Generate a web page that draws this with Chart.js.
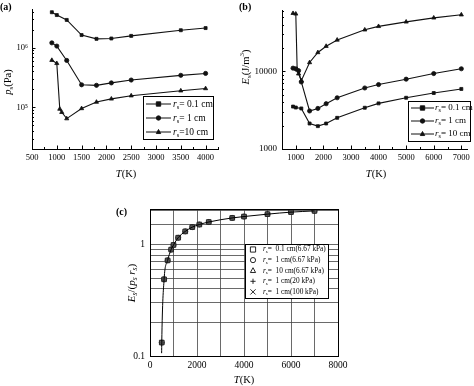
<!DOCTYPE html>
<html>
<head>
<meta charset="utf-8">
<script src="https://cdn.jsdelivr.net/npm/chart.js@4.4.0/dist/chart.umd.min.js"></script>
<style>
  body { margin: 0; background: #fff; }
  #wrap { position: relative; width: 474px; height: 386px; }
  canvas { position: absolute; }
</style>
</head>
<body>
<div id="wrap">
  <canvas id="ca" width="237" height="195" style="left:0;top:0"></canvas>
  <canvas id="cb" width="237" height="195" style="left:237px;top:0"></canvas>
  <canvas id="cc" width="280" height="191" style="left:100px;top:195px"></canvas>
</div>
<script>
// ---- data ----
// (a) saturation pressure p_s (Pa) vs T (K)
const tA = [900, 1000, 1200, 1500, 1800, 2100, 2500, 3500, 4000];
const psA1 = [3.9e6, 3.5e6, 2.9e6, 1.62e6, 1.4e6, 1.42e6, 1.57e6, 1.95e6, 2.12e6];   // rs = 0.1 cm
const psA2 = [1.2e6, 1.06e6, 6.1e5, 2.39e5, 2.34e5, 2.57e5, 2.87e5, 3.44e5, 3.7e5];  // rs = 1 cm
const tA3 = [900, 1000, 1060, 1100, 1200, 1500, 1800, 2100, 2500, 3500, 4000];
const psA3 = [6.15e5, 5.45e5, 9.4e4, 8.3e4, 6.5e4, 9.6e4, 1.23e5, 1.39e5, 1.57e5, 1.9e5, 2.07e5]; // rs = 10 cm

// (b) E_s (J/m^3) vs T (K)
const tB1 = [900, 1000, 1200, 1500, 1800, 2100, 2500, 3500, 4000, 5000, 6000, 7000];
const esB1 = [3520, 3420, 3330, 2130, 1970, 2130, 2520, 3400, 3870, 4570, 5260, 5940];
const tB2 = [900, 1000, 1100, 1200, 1500, 1800, 2100, 2500, 3500, 4000, 5000, 6000, 7000];
const esB2 = [11000, 10800, 10200, 7300, 3090, 3330, 3830, 4570, 6110, 6760, 7930, 9370, 10800];
const tB3 = [900, 1000, 1050, 1100, 1200, 1500, 1800, 2100, 2500, 3500, 4000, 5000, 6000, 7000];
const esB3 = [56000, 55000, 10500, 9300, 7600, 13000, 17500, 21100, 25400, 34300, 38000, 43400, 48900, 53600];

// (c) E_s/(p_s r_s) vs T (K), same for all five cases
const tC = [500, 600, 750, 900, 1000, 1200, 1500, 1800, 2100, 2500, 3500, 4000, 5000, 6000, 7000];
const eC = [0.132, 0.487, 0.72, 0.90, 0.99, 1.15, 1.31, 1.43, 1.51, 1.59, 1.73, 1.78, 1.87, 1.95, 2.0];
const fitT = [495].concat(tC);
const fitE = [0.106].concat(eC);

const legA = ['= 0.1 cm', '= 1 cm', '=10 cm'];
const legB = ['= 0.1 cm', '= 1 cm', '= 10 cm'];
const legC = ['=  0.1 cm(6.67 kPa)', '=  1 cm(6.67 kPa)', '=  10 cm(6.67 kPa)', '=  1 cm(20 kPa)', '=  1 cm(100 kPa)'];
const styleC = ['rect', 'circle', 'triangle', 'cross', 'crossRot'];

const FONT = "'Liberation Serif', 'Times New Roman', serif";
Chart.defaults.font.family = FONT;
Chart.defaults.color = '#000';

const pairs = (xs, ys) => xs.map((x, i) => ({ x: x, y: ys[i] }));
const isPow10 = v => { const e = Math.log10(v); return Math.abs(e - Math.round(e)) < 1e-6; };
const SUP = { 4: '⁴', 5: '⁵', 6: '⁶', 7: '⁷' };

// text with italic / subscript / superscript pieces
function rich(ctx, parts, x, y, size, rot, align) {
  ctx.save();
  ctx.translate(x, y);
  if (rot) ctx.rotate(rot);
  ctx.textBaseline = 'middle';
  ctx.fillStyle = '#000';
  const segs = parts.map(([t, k]) => {
    const small = k === 'sub' || k === 'isub' || k === 'sup';
    const s = small ? size * 0.68 : size;
    const f = (k === 'i' || k === 'isub' ? 'italic ' : '') + (k === 'bold' ? 'bold ' : '') + s + 'px ' + FONT;
    ctx.font = f;
    const dy = (k === 'sub' || k === 'isub') ? size * 0.3 : (k === 'sup' ? -size * 0.35 : 0);
    return { t: t, f: f, w: ctx.measureText(t).width, dy: dy };
  });
  const tw = segs.reduce((a, s) => a + s.w, 0);
  let cx = align === 'left' ? 0 : -tw / 2;
  segs.forEach(s => { ctx.font = s.f; ctx.fillText(s.t, cx, s.dy); cx += s.w; });
  ctx.restore();
}

function mark(ctx, st, x, y, r, fill) {
  ctx.beginPath();
  if (st === 'rect') ctx.rect(x - r, y - r, 2 * r, 2 * r);
  else if (st === 'circle') ctx.arc(x, y, r, 0, Math.PI * 2);
  else if (st === 'triangle') { ctx.moveTo(x, y - r * 1.15); ctx.lineTo(x + r, y + r * 0.7); ctx.lineTo(x - r, y + r * 0.7); ctx.closePath(); }
  else if (st === 'cross') { ctx.moveTo(x - r, y); ctx.lineTo(x + r, y); ctx.moveTo(x, y - r); ctx.lineTo(x, y + r); }
  else if (st === 'crossRot') { ctx.moveTo(x - r, y - r); ctx.lineTo(x + r, y + r); ctx.moveTo(x + r, y - r); ctx.lineTo(x - r, y + r); }
  if (fill && st !== 'cross' && st !== 'crossRot') ctx.fill();
  ctx.stroke();
}

// per-chart decorations: inward ticks, legend box, titles
function deco(cfg) {
  return {
    id: 'deco',
    afterDraw(chart) {
      const ctx = chart.ctx, a = chart.chartArea, x = chart.scales.x, y = chart.scales.y;
      ctx.save();
      ctx.strokeStyle = '#000';
      ctx.fillStyle = '#000';
      ctx.lineWidth = 1;
      if (cfg.xStep) {
        const h = cfg.xStep / 2;
        for (let v = Math.ceil(x.min / h) * h; v <= x.max; v += h) {
          const px = Math.round(x.getPixelForValue(v)) + 0.5;
          const len = (v % cfg.xStep === 0) ? 3.5 : 2;
          ctx.beginPath(); ctx.moveTo(px, a.bottom); ctx.lineTo(px, a.bottom - len); ctx.stroke();
        }
        for (let e = Math.floor(Math.log10(y.min)); e <= Math.ceil(Math.log10(y.max)); e++) {
          for (let m = 1; m <= 9; m++) {
            const v = m * Math.pow(10, e);
            if (v < y.min || v > y.max) continue;
            const py = Math.round(y.getPixelForValue(v)) + 0.5;
            const len = m === 1 ? 3.5 : 2;
            ctx.beginPath(); ctx.moveTo(a.left, py); ctx.lineTo(a.left + len, py); ctx.stroke();
          }
        }
      }
      if (cfg.box) ctx.strokeRect(Math.round(a.left) + 0.5, Math.round(a.top) + 0.5, Math.round(a.right - a.left), Math.round(a.bottom - a.top));
      const L = cfg.legend;
      if (L) {
        ctx.fillStyle = '#fff';
        ctx.fillRect(L.x, L.y, L.w, L.h);
        ctx.strokeRect(L.x + 0.5, L.y + 0.5, L.w, L.h);
        const ds = chart.data.datasets.filter(d => d.label);
        ds.forEach((d, i) => {
          const cy = L.y + L.top + i * L.row;
          ctx.strokeStyle = '#111';
          ctx.fillStyle = '#111';
          if (L.line) {
            ctx.beginPath(); ctx.moveTo(L.x + 3, cy); ctx.lineTo(L.x + 3 + L.line, cy); ctx.stroke();
          }
          ctx.lineWidth = 0.9;
          mark(ctx, d.pointStyle, L.x + L.mx, cy, L.mr, L.fill);
          ctx.lineWidth = 1;
          rich(ctx, [['r', 'i'], ['s', 'sub'], [d.label, '']], L.x + L.tx, cy, L.size, 0, 'left');
        });
      }
      (cfg.texts || []).forEach(t => rich(ctx, t.parts, t.x, t.y, t.size, t.rot || 0, t.align));
      ctx.restore();
    }
  };
}

function axisX(min, max, step, h, pad, size, cb, grid) {
  return {
    type: 'linear', min: min, max: max,
    ticks: { autoSkip: false, maxRotation: 0, padding: pad,
             font: { size: size }, callback: cb || (v => v) },
    grid: grid || { display: false, drawTicks: false },
    border: { display: true, color: '#000', width: 1 },
    // fixed tick positions (multiples of step inside min..max)
    afterBuildTicks: s => {
      const t = [];
      for (let v = Math.ceil(min / step) * step; v <= max; v += step) t.push({ value: v });
      s.ticks = t;
    },
    afterFit: s => { s.height = h; }
  };
}
function axisY(min, max, w, pad, size, cb, grid) {
  return {
    type: 'logarithmic', min: min, max: max,
    ticks: { autoSkip: false, padding: pad, font: { size: size }, callback: cb },
    grid: grid || { display: false, drawTicks: false },
    border: { display: true, color: '#000', width: 1 },
    afterFit: s => { s.width = w; }
  };
}
function lineSet(label, xs, ys, st, r) {
  return { label: label, data: pairs(xs, ys), pointStyle: st, pointRadius: r,
           borderColor: '#111', backgroundColor: '#111', borderWidth: 1.1, pointBorderWidth: 0.8 };
}
const common = { responsive: false, animation: false, devicePixelRatio: 1,
                 plugins: { legend: { display: false }, tooltip: { enabled: false } } };

// ---- (a) ----
new Chart(document.getElementById('ca'), {
  type: 'line',
  data: { datasets: [
    lineSet(legA[0], tA, psA1, 'rect', 2.1),
    lineSet(legA[1], tA, psA2, 'circle', 2.1),
    lineSet(legA[2], tA3, psA3, 'triangle', 2.4)
  ] },
  options: Object.assign({}, common, {
    layout: { padding: { left: 0, top: 1, right: 19, bottom: 0 } },
    scales: {
      x: axisX(500, 4250, 500, 46, 4, 8.5),
      y: axisY(2.02e4, 4.4e6, 32, 4, 8.5, v => isPow10(v) ? '10' + SUP[Math.round(Math.log10(v))] : '')
    }
  }),
  plugins: [deco({
    xStep: 500,
    legend: { x: 143, y: 96, w: 70, h: 43, top: 8, row: 14, line: 25, mx: 15.5, mr: 2.2, tx: 30, size: 9.5, fill: true },
    texts: [
      { parts: [['(a)', 'bold']], x: 0, y: 7, size: 10, align: 'left' },
      { parts: [['p', 'i'], ['s', 'sub'], ['(Pa)', '']], x: 8, y: 82, size: 10.5, rot: -Math.PI / 2 },
      { parts: [['T', 'i'], ['(K)', '']], x: 126, y: 174, size: 10.5 }
    ]
  })]
});

// ---- (b) ----
new Chart(document.getElementById('cb'), {
  type: 'line',
  data: { datasets: [
    lineSet(legB[0], tB1, esB1, 'rect', 2.1),
    lineSet(legB[1], tB2, esB2, 'circle', 2.1),
    lineSet(legB[2], tB3, esB3, 'triangle', 2.4)
  ] },
  options: Object.assign({}, common, {
    layout: { padding: { left: 0, top: 2, right: 3, bottom: 0 } },
    scales: {
      x: axisX(500, 7240, 1000, 46, 4, 8.5),
      y: axisY(1000, 61000, 45, 5, 9, v => isPow10(v) ? String(Math.round(v)) : '')
    }
  }),
  plugins: [deco({
    xStep: 1000,
    legend: { x: 171, y: 101, w: 62, h: 40, top: 7, row: 13, line: 23, mx: 14.5, mr: 2.2, tx: 27, size: 9, fill: true },
    texts: [
      { parts: [['(b)', 'bold']], x: 2, y: 7, size: 10, align: 'left' },
      { parts: [['E', 'i'], ['s', 'sub'], ['(J/m', ''], ['3', 'sup'], [')', '']], x: 9, y: 67, size: 10.5, rot: -Math.PI / 2 },
      { parts: [['T', 'i'], ['(K)', '']], x: 139, y: 174, size: 10.5 }
    ]
  })]
});

// ---- (c) ----
const gridC = { display: true, drawTicks: false, color: '#444', lineWidth: 0.8 };
const dsC = [{ data: pairs(fitT, fitE), borderColor: '#000', borderWidth: 1, pointRadius: 0,
               cubicInterpolationMode: 'monotone', showLine: true }];
const radC = { rect: 3.3, circle: 2.5, triangle: 2.4, cross: 2.6, crossRot: 2.6 };
styleC.forEach((st, i) => {
  dsC.push({ label: legC[i], data: pairs(tC, eC), pointStyle: st, showLine: false,
             pointRadius: radC[st], pointBorderWidth: 0.9,
             pointBorderColor: '#222', pointBackgroundColor: st === 'rect' ? 'rgba(110,110,110,0.55)' : 'rgba(0,0,0,0)' });
});
new Chart(document.getElementById('cc'), {
  type: 'line',
  data: { datasets: dsC },
  options: Object.assign({}, common, {
    layout: { padding: { left: 0, top: 14, right: 42, bottom: 0 } },
    scales: {
      x: axisX(0, 8000, 1000, 30, 4, 9.5, v => v % 2000 === 0 ? v : '', gridC),
      y: axisY(0.1, 2.08, 50, 5, 9.5, v => isPow10(v) ? String(Math.pow(10, Math.round(Math.log10(v)))) : '', gridC)
    }
  }),
  plugins: [deco({
    box: true,
    legend: { x: 145, y: 49, w: 83, h: 54, top: 5.5, row: 10.6, line: 0, mx: 8, mr: 2.6, tx: 18, size: 7.3, fill: false },
    texts: [
      { parts: [['(c)', 'bold']], x: 16, y: 17, size: 10, align: 'left' },
      { parts: [['E', 'i'], ['s', 'isub'], ['/(', ''], ['p', 'i'], ['s', 'isub'], [' r', 'i'], ['s', 'isub'], [')', '']], x: 32, y: 88, size: 11, rot: -Math.PI / 2 },
      { parts: [['T', 'i'], ['(K)', '']], x: 144, y: 185, size: 10.5 }
    ]
  })]
});
</script>
</body>
</html>
